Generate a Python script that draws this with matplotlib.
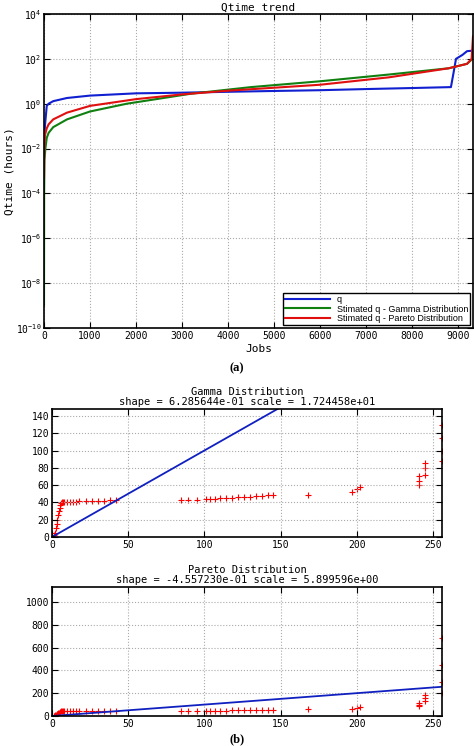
import numpy as np
import matplotlib.pyplot as plt

# top panel: Qtime trend
q_x = [0, 20, 60, 100, 200, 500, 1000, 2000, 3000, 4000, 5000, 6000, 7000, 8000, 8850, 8900, 8960, 9100, 9200, 9300]
q_y = [0.01, 0.1, 0.8, 1.0, 1.3, 1.8, 2.3, 2.9, 3.1, 3.4, 3.7, 4.0, 4.5, 5.0, 5.5, 20, 100, 150, 220, 230]
g_x = [0, 3, 10, 30, 60, 100, 200, 500, 1000, 1800, 3200, 4500, 6000, 7500, 8800, 9200, 9320]
g_y = [1e-9, 1e-4, 3e-3, 0.01, 0.03, 0.05, 0.09, 0.2, 0.45, 1.0, 2.8, 5.5, 10, 20, 38, 60, 100]
p_x = [0, 5, 20, 60, 100, 200, 500, 1000, 2000, 3000, 4000, 6000, 7500, 8800, 9200, 9300, 9330]
p_y = [5e-4, 0.01, 0.04, 0.08, 0.12, 0.2, 0.4, 0.8, 1.6, 2.6, 3.8, 7, 15, 38, 60, 100, 1000]

# QQ points: theoretical quantile (x) vs gamma / pareto estimate (y)
qq_x = [1, 1.5, 2, 2.5, 3, 3.5, 4, 4.5, 5, 5.5, 6, 6.5, 7, 8, 10, 12, 14, 16, 18, 22, 26, 30, 34, 38, 42,
        85, 89, 95, 101, 104, 107, 110, 114, 118, 122, 126, 130, 134, 138, 142, 145,
        168, 197, 200, 202, 241, 241, 241, 245, 245, 245, 256, 256, 256, 256]
gamma_y = [0, 2, 5, 10, 15, 20, 25, 30, 34, 37, 39, 40, 40, 40.5, 40.5, 41, 41, 41, 41.5, 41.5, 42, 42, 42, 42.5, 42.5,
           43, 43, 43, 43.5, 44, 44.5, 45, 45, 45.5, 46, 46, 46.5, 47, 47.5, 48, 48.5,
           49, 52, 55, 58, 60, 65, 70, 72, 80, 86, 88, 100, 115, 130]
pareto_y = [0, 3, 6, 10, 15, 20, 25, 30, 35, 38, 40, 40, 40, 41, 41, 42, 42, 42, 42, 43, 43, 43, 44, 44, 45,
            45, 45, 46, 46, 47, 47, 48, 48, 49, 49, 50, 50, 51, 52, 53, 54,
            58, 62, 70, 78, 90, 100, 110, 130, 160, 180, 200, 300, 450, 680]

plt.rcParams['font.family'] = 'DejaVu Sans Mono'
plt.rcParams['font.size'] = 7

fig = plt.figure(figsize=(4.74, 7.46), dpi=100)
H = 746.0
W = 474.0

def axes_px(l, t, r, b):
    return fig.add_axes([l / W, 1 - b / H, (r - l) / W, (b - t) / H])

grid_kw = dict(color='#aaaaaa', linestyle=':', linewidth=0.8)

ax1 = axes_px(44, 14, 473, 328)
ax1.plot(q_x, q_y, color='#1020d0', lw=1.5, label='q')
ax1.plot(g_x, g_y, color='#108010', lw=1.5, label='Stimated q - Gamma Distribution')
ax1.plot(p_x, p_y, color='#e01010', lw=1.5, label='Stimated q - Pareto Distribution')
ax1.set_yscale('log')
ax1.set_ylim(1e-10, 1e4)
ax1.set_xlim(0, 9330)
ax1.set_yticks([10.0 ** k for k in range(-10, 5, 2)])
ax1.minorticks_off()
ax1.set_xticks(range(0, 9001, 1000))
ax1.grid(True, **grid_kw)
ax1.set_title('Qtime trend', fontsize=8, pad=2)
ax1.set_xlabel('Jobs', fontsize=8, labelpad=2)
ax1.set_ylabel('Qtime (hours)', fontsize=8, labelpad=1)
leg = ax1.legend(loc='lower right', handlelength=5, fancybox=False,
                 edgecolor='black', framealpha=1, borderpad=0.2, labelspacing=0.1,
                 prop={'family': 'Liberation Sans', 'size': 6.5}, borderaxespad=0.3)
leg.get_frame().set_linewidth(1.0)
fig.text(0.5, 1 - 368 / H, '(a)', ha='center', va='center', fontsize=9, weight='bold', family='Liberation Serif')

ax2 = axes_px(52, 409, 442, 537)
ax2.scatter(qq_x, gamma_y, marker='+', color='red', s=14, lw=0.8)
ax2.plot([0, 256], [0, 256], color='#1020c0', lw=1.3)
ax2.set_xlim(0, 256)
ax2.set_ylim(0, 148)
ax2.set_yticks(range(0, 141, 20))
ax2.set_title('Gamma Distribution\nshape = 6.285644e-01 scale = 1.724458e+01', fontsize=7.5, pad=3, linespacing=1.0)

ax3 = axes_px(52, 587, 442, 716)
ax3.scatter(qq_x, pareto_y, marker='+', color='red', s=14, lw=0.8)
ax3.plot([0, 256], [0, 256], color='#1020c0', lw=1.3)
ax3.set_xlim(0, 256)
ax3.set_ylim(0, 1130)
ax3.set_yticks(range(0, 1001, 200))
ax3.set_title('Pareto Distribution\nshape = -4.557230e-01 scale = 5.899596e+00', fontsize=7.5, pad=3, linespacing=1.0)

for ax in (ax2, ax3):
    ax.set_xticks(range(0, 251, 50))
    ax.grid(True, **grid_kw)
for ax in (ax1, ax2, ax3):
    ax.tick_params(direction='in', length=4, pad=2, top=True, right=True)
    for s in ax.spines.values():
        s.set_linewidth(1.2)

fig.text(0.5, 1 - 739 / H, '(b)', ha='center', va='center', fontsize=9, weight='bold', family='Liberation Serif')

fig.savefig('out.png', dpi=100)
